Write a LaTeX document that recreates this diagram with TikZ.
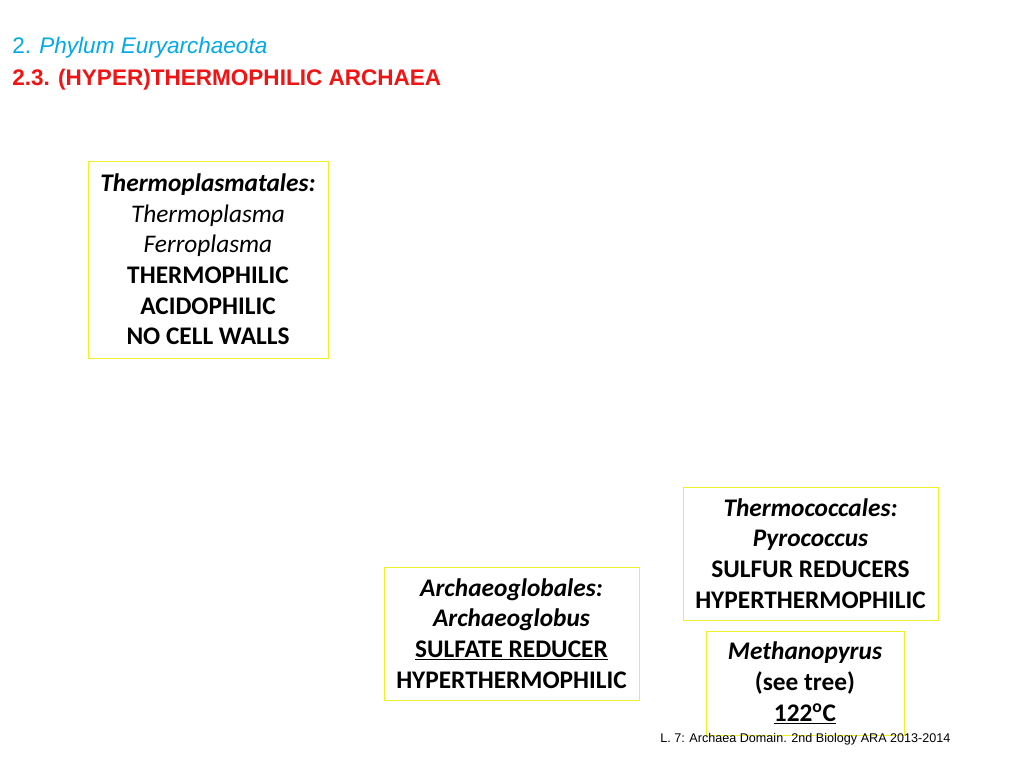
\documentclass[tikz,border=0pt]{standalone}
\usepackage{fontspec}
\setmainfont{Carlito}
\newfontfamily\arial{Liberation Sans}
\begin{document}
\begin{tikzpicture}[x=0.75pt,y=-0.75pt]
\definecolor{ybox}{RGB}{240,240,40}
\definecolor{tcyan}{RGB}{0,170,230}
\definecolor{tred}{RGB}{240,20,20}
\tikzset{
  taxbox/.style={draw=ybox,line width=0.6pt,align=center,inner sep=0pt,
    font=\fontsize{19}{23}\selectfont},
  head/.style={anchor=base west,inner sep=0pt,font=\arial\fontsize{16.9}{19}\selectfont}
}
\useasboundingbox[fill=white] (0,0) rectangle (1024,768);
\node[head,text=tcyan] (h1) at (12,53) {2. \textit{Phylum Euryarchaeota}};
\node[head,text=tred] (h2) at (12,85) {\bfseries 2.3. (HYPER)THERMOPHILIC ARCHAEA};
\node[taxbox,minimum width=180pt,minimum height=147.75pt] (b1) at (208,259.5)
 {\textbf{\textit{Thermoplasmatales:}}\\\textit{Thermoplasma}\\\textit{Ferroplasma}\\\textbf{THERMOPHILIC}\\\textbf{ACIDOPHILIC}\\\textbf{NO CELL WALLS}};
\node[taxbox,minimum width=191.25pt,minimum height=99.75pt] (b2) at (511.5,633.5)
 {\textbf{\textit{Archaeoglobales:}}\\\textbf{\textit{Archaeoglobus}}\\\textbf{\underline{SULFATE REDUCER}}\\\textbf{HYPERTHERMOPHILIC}};
\node[taxbox,minimum width=191.25pt,minimum height=99.75pt] (b3) at (810.5,553.5)
 {\textbf{\textit{Thermococcales:}}\\\textbf{\textit{Pyrococcus}}\\\textbf{SULFUR REDUCERS}\\\textbf{HYPERTHERMOPHILIC}};
\node[taxbox,minimum width=148.5pt,minimum height=78pt] (b4) at (805,683)
 {\textbf{\textit{Methanopyrus}}\\\textbf{(see tree)}\\\textbf{\underline{122\textsuperscript{o}C}}};
\node[anchor=base west,inner sep=0pt,font=\arial\fontsize{9.45}{11}\selectfont] (ft) at (660,742)
 {L. 7: Archaea Domain. 2nd Biology ARA 2013-2014};
\end{tikzpicture}
\end{document}
